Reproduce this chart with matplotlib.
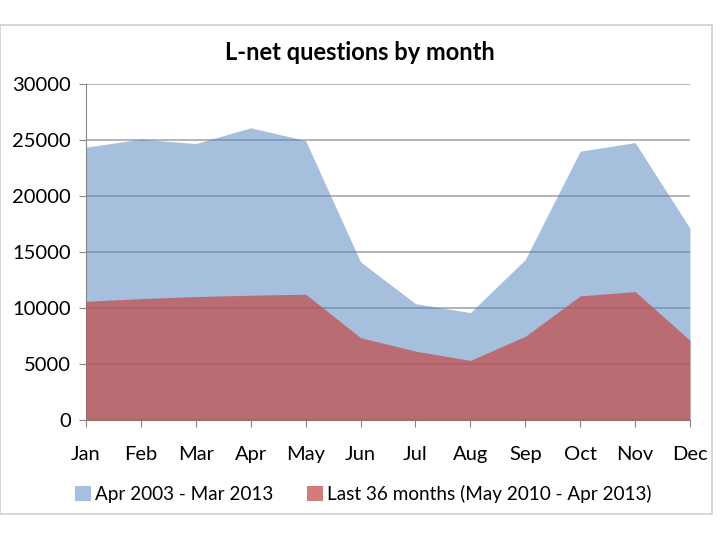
import matplotlib.pyplot as plt
from matplotlib.patches import Rectangle, Patch

plt.rcParams['font.family'] = ['Lato', 'DejaVu Sans']

months = ['Jan', 'Feb', 'Mar', 'Apr', 'May', 'Jun', 'Jul', 'Aug', 'Sep', 'Oct', 'Nov', 'Dec']
all_years = [24360, 25080, 24680, 26090, 24950, 14120, 10390, 9590, 14330, 24000, 24770, 17110]
last_36 = [10600, 10840, 11020, 11140, 11230, 7350, 6150, 5320, 7470, 11080, 11470, 7110]
labels = ['Apr 2003 - Mar 2013', 'Last 36 months (May 2010 - Apr 2013)']

blue = '#4F81BD'
red = '#C0504D'

fig = plt.figure(figsize=(7.2, 5.4), dpi=100)
fig.patches.append(Rectangle((0.0, 1 - 514 / 540), 712 / 720, (514 - 25) / 540,
                             transform=fig.transFigure, fill=False,
                             edgecolor='#d0d0d0', linewidth=1.2))

ax = fig.add_axes([86 / 720, 1 - 420 / 540, (690 - 86) / 720, (420 - 84) / 540])
x = range(len(months))
ax.fill_between(x, 0, all_years, color=blue, alpha=0.5, linewidth=0, zorder=2)
ax.fill_between(x, 0, last_36, color=red, alpha=0.75, linewidth=0, zorder=3)

ax.set_xlim(0, len(months) - 1)
ax.set_ylim(0, 30000)
ax.set_yticks(range(0, 30001, 5000))
ax.set_xticks(list(x))
ax.set_xticklabels(months)
ax.yaxis.grid(True, color='#a8a8a8', linewidth=1.2, zorder=1)
ax.set_axisbelow(True)

for s in ['top', 'right']:
    ax.spines[s].set_visible(False)
ax.spines['left'].set_color('#868686')
ax.spines['bottom'].set_color('#868686')
ax.tick_params(axis='both', colors='#868686', labelcolor='black', labelsize=14.5, length=5)
ax.tick_params(axis='x', pad=14)
ax.tick_params(axis='y', pad=6)

fig.text(0.5, 1 - 52 / 540, 'L-net questions by month', ha='center', va='center',
         fontsize=17, fontweight='bold')

handles = [Patch(color=blue, alpha=0.5, linewidth=0), Patch(color=red, alpha=0.75, linewidth=0)]
fig.legend(handles, labels, loc='center', bbox_to_anchor=(0.505, 1 - 494 / 540), ncol=2,
           frameon=False, fontsize=13.6, handlelength=0.8, handleheight=0.8,
           handletextpad=0.25, columnspacing=1.8)

fig.savefig('out.png', dpi=100)
